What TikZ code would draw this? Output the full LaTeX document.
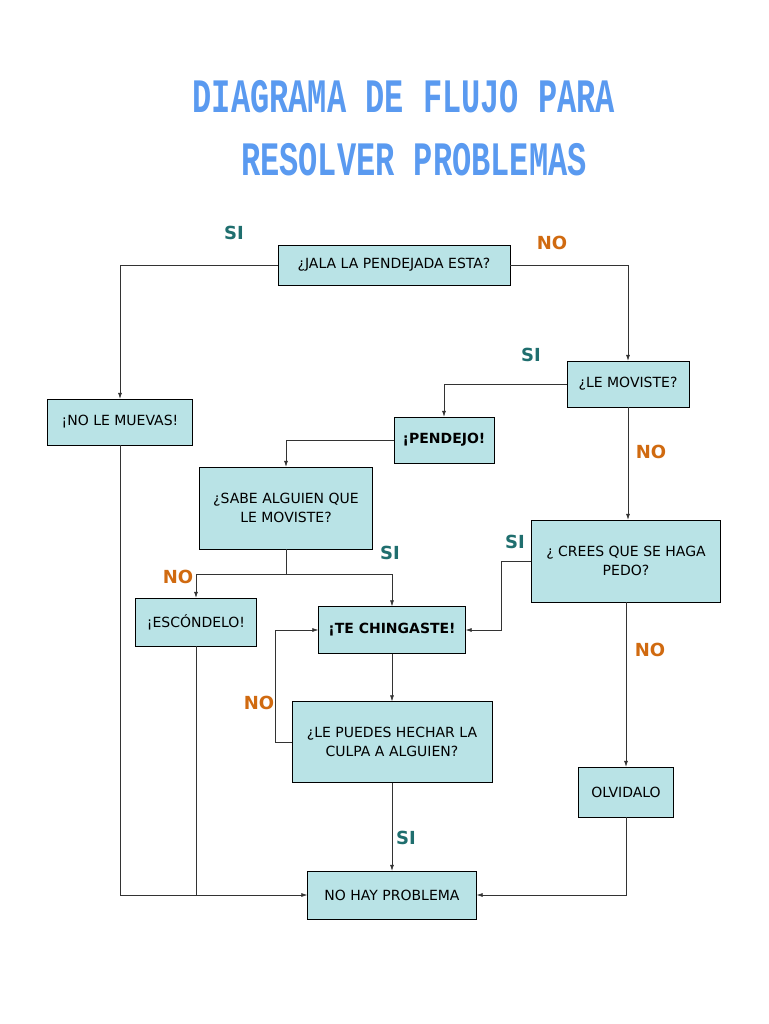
\documentclass[tikz,border=0pt]{standalone}
\usepackage{fontspec}
\setmainfont{DejaVu Sans}
\newfontfamily\titlefont{Liberation Mono}
\usetikzlibrary{arrows.meta}
\definecolor{boxfill}{HTML}{B9E3E6}
\definecolor{siteal}{HTML}{1F6E6E}
\definecolor{noorange}{HTML}{D06A10}
\definecolor{titleblue}{HTML}{5A9AF0}
\begin{document}
\begin{tikzpicture}[x=1pt,y=-1pt,
  box/.style={draw=black,fill=boxfill,inner sep=0pt,align=center,font=\fontsize{14}{19}\selectfont},
  si/.style={text=siteal,font=\bfseries\fontsize{18}{20}\selectfont},
  nolbl/.style={text=noorange,font=\bfseries\fontsize{18}{20}\selectfont},
  arr/.style={draw=black!80,line width=0.6pt,-{Latex[length=6pt,width=4pt]}},
  ln/.style={draw=black!80,line width=0.6pt}]
\useasboundingbox (0,0) rectangle (768,1024);
\node[text=titleblue,font=\titlefont\bfseries\fontsize{32}{32}\selectfont] (t1) at (404,97) {\scalebox{1}[1.5]{DIAGRAMA DE FLUJO PARA}};
\node[text=titleblue,font=\titlefont\bfseries\fontsize{32}{32}\selectfont] (t2) at (414,160) {\scalebox{1}[1.5]{RESOLVER PROBLEMAS}};

\node[box,minimum width=232,minimum height=40] (q1) at (394,265) {¿JALA LA PENDEJADA ESTA?};
\node[box,minimum width=122,minimum height=46] (q2) at (628,384) {¿LE MOVISTE?};
\node[box,minimum width=145,minimum height=46] (nm) at (120,422) {¡NO LE MUEVAS!};
\node[box,minimum width=100,minimum height=46,font=\bfseries\fontsize{14}{19}\selectfont] (pe) at (444,440) {¡PENDEJO!};
\node[box,minimum width=173,minimum height=82] (sa) at (286,508) {¿SABE ALGUIEN QUE\\LE MOVISTE?};
\node[box,minimum width=189,minimum height=82] (cr) at (626,561) {¿ CREES QUE SE HAGA\\PEDO?};
\node[box,minimum width=121,minimum height=48] (es) at (196,622) {¡ESCÓNDELO!};
\node[box,minimum width=147,minimum height=47,font=\bfseries\fontsize{14}{19}\selectfont] (ch) at (392,630) {¡TE CHINGASTE!};
\node[box,minimum width=200,minimum height=81] (cu) at (392,742) {¿LE PUEDES HECHAR LA\\CULPA A ALGUIEN?};
\node[box,minimum width=95,minimum height=50] (ol) at (626,792) {OLVIDALO};
\node[box,minimum width=169,minimum height=48] (np) at (392,895) {NO HAY PROBLEMA};

\draw[arr] (q1.west) -| (nm.north);
\draw[arr] (q1.east) -| (q2.north);
\draw[arr] (q2.west) -| (pe.north);
\draw[arr] (q2.south) -- (q2.south |- cr.north);
\draw[arr] (pe.west) -| (sa.north);
\coordinate (sj) at (286,574);
\draw[ln] (sa.south) -- (sj);
\draw[arr] (sj) -| (es.north);
\draw[arr] (sj) -| (ch.north);
\coordinate (cj) at (501,561);
\draw[arr] (cr.west) -- (cj) |- (ch.east);
\draw[arr] (cr.south) -- (cr.south |- ol.north);
\draw[arr] (ch.south) -- (cu.north);
\coordinate (cuw) at (275,742);
\draw[arr] (cu.west) -- (cuw) |- (ch.west);
\draw[arr] (cu.south) -- (np.north);
\draw[arr] (nm.south) |- (np.west);
\draw[ln] (es.south) -- (es.south |- np.west);
\draw[arr] (ol.south) |- (np.east);

\node[si] (l1) at (234,233) {SI};
\node[nolbl] (l2) at (552,243) {NO};
\node[si] (l3) at (531,355) {SI};
\node[nolbl] (l4) at (651,452) {NO};
\node[nolbl] (l5) at (178,577) {NO};
\node[si] (l6) at (390,553) {SI};
\node[si] (l7) at (515,542) {SI};
\node[nolbl] (l8) at (650,650) {NO};
\node[nolbl] (l9) at (259,703) {NO};
\node[si] (l10) at (406,838) {SI};
\end{tikzpicture}
\end{document}
